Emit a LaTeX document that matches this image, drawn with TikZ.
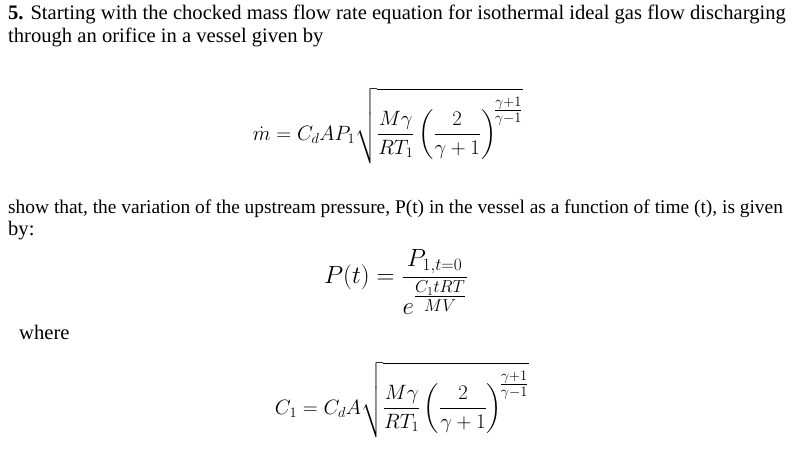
\documentclass[tikz,border=0pt]{standalone}
\usepackage{amsmath}
\usepackage{fontspec}
\setmainfont{Liberation Serif}
\begin{document}
\begin{tikzpicture}[x=1pt,y=-1pt,
  txt/.style={anchor=base west,inner sep=0pt,font=\fontsize{20.6}{24}\selectfont},
  eq/.style={inner sep=0pt,font=\fontsize{22}{26}\selectfont}]
\useasboundingbox[fill=white] (0,0) rectangle (801,460);
\node[txt] (l1) at (8,20) {\textbf{5.} Starting with the chocked mass flow rate equation for isothermal ideal gas flow discharging};
\node[txt] (l2) at (8,43) {through an orifice in a vessel given by};
\node[eq] (e1) at (388,126) {$\displaystyle \dot m = C_d A P_1\sqrt{\frac{M\gamma}{RT_1}\left(\frac{2}{\gamma+1}\right)^{\!\textstyle\frac{\gamma+1}{\gamma-1}}}$};
\node[txt,font=\fontsize{19.4}{24}\selectfont] (l3) at (8,213) {show that, the variation of the upstream pressure, P(t) in the vessel as a function of time (t), is given};
\node[txt] (l4) at (8,235) {by:};
\node[eq,font=\fontsize{24}{28}\selectfont] (e2) at (396,282) {$\displaystyle P(t) = \frac{P_{1,t=0}}{e^{\textstyle\frac{C_1 tRT}{MV}}}$};
\node[txt] (l5) at (19,339) {where};
\node[eq] (e3) at (402,400) {$\displaystyle C_1 = C_d A\sqrt{\frac{M\gamma}{RT_1}\left(\frac{2}{\gamma+1}\right)^{\!\textstyle\frac{\gamma+1}{\gamma-1}}}$};
\end{tikzpicture}
\end{document}
